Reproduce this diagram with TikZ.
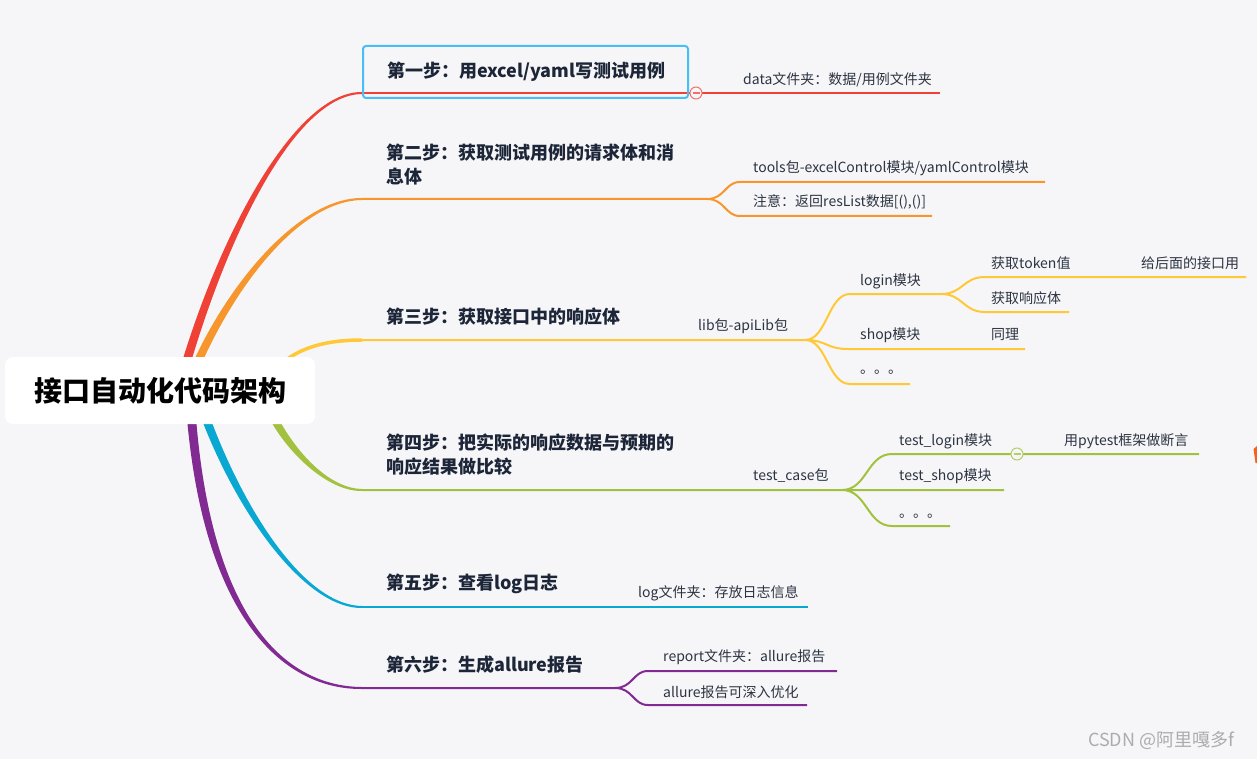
\documentclass[tikz,border=0pt]{standalone}
\usepackage{fontspec}
\setmainfont{Noto Sans CJK SC}
\usetikzlibrary{calc}

\definecolor{bgc}{RGB}{246,246,248}
\definecolor{cred}{RGB}{239,65,54}
\definecolor{corange}{RGB}{247,150,44}
\definecolor{cyellow}{RGB}{255,200,55}
\definecolor{cgreen}{RGB}{162,193,63}
\definecolor{ccyan}{RGB}{8,168,210}
\definecolor{cpurple}{RGB}{128,42,146}
\definecolor{cbox}{RGB}{72,190,245}
\definecolor{cblob}{RGB}{246,98,30}
\definecolor{steptext}{RGB}{28,38,56}
\definecolor{leaftext}{RGB}{44,52,66}

% tapered main branch: colour, start, control 1, control 2, end, side (-1 up, 1 down)
\newcommand{\trunk}[6]{%
  \fill[#1] ($(#2)+(-4.5,0)$) .. controls ($(#3)+({-3.5},{1.2*(#6)})$) and ($(#4)+(0,{1.6*(#6)})$) .. ($(#5)+(0,{1*(#6)})$)
    -- ($(#5)+(0,{-1*(#6)})$) .. controls ($(#4)+(0,{-1.6*(#6)})$) and ($(#3)+({3.5},{-1.2*(#6)})$) .. ($(#2)+(4.5,0)$) -- cycle;}

\begin{document}
\begin{tikzpicture}[x=1pt,y=-1pt,
  stepnode/.style={anchor=west,inner sep=0pt,text=steptext,align=left,
    font=\bfseries\fontsize{18}{24}\selectfont},
  leafnode/.style={anchor=west,inner sep=0pt,text=leaftext,font=\fontsize{14}{17}\selectfont},
  rootnode/.style={fill=white,rounded corners=8pt,minimum width=310pt,minimum height=67pt,
    inner sep=0pt,font=\bfseries\fontsize{28}{32}\selectfont,text=black},
  twig/.style={line width=2pt},
  knob/.style={circle,draw=#1,fill=bgc,line width=1pt,minimum size=12pt,inner sep=0pt,
    path picture={\draw[#1,line width=1.5pt] ([xshift=-3.5pt]path picture bounding box.center)
      -- ([xshift=3.5pt]path picture bounding box.center);}}]
  \fill[bgc] (0,0) rectangle (1257,759);
  \useasboundingbox (0,0) rectangle (1257,759);

  % step one
  \coordinate (r0) at (188,357); \coordinate (r1) at (362,93); \coordinate (r2) at (940,93);
  \trunk{cred}{r0}{230,220}{299,93}{r1}{-1}
  \draw[twig,cred] (r1) -- (r2);
  \node[stepnode,draw=cbox,line width=2pt,rounded corners=3pt,inner xsep=24pt,
    minimum height=52pt,text width=277pt] (s1) at (362,72) {第一步：用excel/yaml写测试用例};
  \node[knob=cred!75] (k1) at (696,93) {};
  \node[leafnode] (d1) at (743,80) {data文件夹：数据/用例文件夹};

  % step two
  \coordinate (o0) at (200,357); \coordinate (o1) at (362,199); \coordinate (o2) at (707,199);
  \coordinate (o3) at (740,182); \coordinate (o4) at (1045,182);
  \coordinate (o5) at (740,216); \coordinate (o6) at (932,216);
  \trunk{corange}{o0}{239,274}{304,199}{o1}{-1}
  \draw[twig,corange] (o1) -- (o2) .. controls +(18,0) and +(-15,0) .. (o3) -- (o4)
    (o2) .. controls +(18,0) and +(-15,0) .. (o5) -- (o6);
  \node[stepnode] (s2) at (386,164.5) {第二步：获取测试用例的请求体和消\\息体};
  \node[leafnode] (d2a) at (753,168) {tools包-excelControl模块/yamlControl模块};
  \node[leafnode] (d2b) at (753,202) {注意：返回resList数据[(),()]};

  % step three
  \coordinate (y0) at (286,360); \coordinate (y1) at (362,340); \coordinate (y2) at (805,340);
  \coordinate (y3) at (850,294); \coordinate (y4) at (941,294);
  \coordinate (y5) at (985,277); \coordinate (y6) at (1246,277);
  \coordinate (y7) at (985,312); \coordinate (y8) at (1069,312);
  \coordinate (y9) at (848,349); \coordinate (y10) at (1025,349);
  \coordinate (y11) at (850,384); \coordinate (y12) at (910,384);
  \draw[cyellow,line width=3.5pt] (y0) .. controls (305,346) and (330,340) .. (y1);
  \draw[twig,cyellow] (y1) -- (y2) .. controls +(22,0) and +(-22,0) .. (y3) -- (y4)
    .. controls +(22,0) and +(-22,0) .. (y5) -- (y6)
    (y4) .. controls +(22,0) and +(-22,0) .. (y7) -- (y8)
    (y2) .. controls +(22,0) and +(-22,0) .. (y9) -- (y10)
    (y2) .. controls +(22,0) and +(-22,0) .. (y11) -- (y12);
  \node[stepnode] (s3) at (386,317) {第三步：获取接口中的响应体};
  \node[leafnode] (d3) at (698,326) {lib包-apiLib包};
  \node[leafnode] (d3a) at (860,281) {login模块};
  \node[leafnode] (d3aa) at (991,263) {获取token值};
  \node[leafnode] (d3aaa) at (1141,263) {给后面的接口用};
  \node[leafnode] (d3ab) at (991,298) {获取响应体};
  \node[leafnode] (d3b) at (860,335) {shop模块};
  \node[leafnode] (d3ba) at (991,335) {同理};
  \node[leafnode] (d3c) at (860,372) {。。。};

  % step four
  \coordinate (g0) at (277,424); \coordinate (g1) at (362,490); \coordinate (g2) at (842,490);
  \coordinate (g3) at (1004,490); \coordinate (g4) at (892,454); \coordinate (g5) at (1199,454);
  \coordinate (g6) at (892,526); \coordinate (g7) at (950,526);
  \trunk{cgreen}{g0}{297,458}{331,490}{g1}{1}
  \draw[twig,cgreen] (g1) -- (g3)
    (g2) .. controls +(25,0) and +(-25,0) .. (g4) -- (g5)
    (g2) .. controls +(25,0) and +(-25,0) .. (g6) -- (g7);
  \node[knob=cgreen!80] (k4) at (1017,454) {};
  \node[stepnode] (s4) at (386,454.5) {第四步：把实际的响应数据与预期的\\响应结果做比较};
  \node[leafnode] (d4) at (753,476) {test\_case包};
  \node[leafnode] (d4a) at (899,441) {test\_login模块};
  \node[leafnode] (d4aa) at (1064,441) {用pytest框架做断言};
  \node[leafnode] (d4b) at (899,476) {test\_shop模块};
  \node[leafnode] (d4c) at (899,516) {。。。};

  % step five
  \coordinate (c0) at (208,424); \coordinate (c1) at (362,607); \coordinate (c2) at (808,607);
  \trunk{ccyan}{c0}{245,519}{307,607}{c1}{1}
  \draw[twig,ccyan] (c1) -- (c2);
  \node[stepnode] (s5) at (386,584) {第五步：查看log日志};
  \node[leafnode] (d5) at (638,593) {log文件夹：存放日志信息};

  % step six
  \coordinate (p0) at (192,424); \coordinate (p1) at (362,688); \coordinate (p2) at (615,688);
  \coordinate (p3) at (648,671); \coordinate (p4) at (837,671);
  \coordinate (p5) at (648,705); \coordinate (p6) at (807,705);
  \trunk{cpurple}{p0}{210,620}{285,688}{p1}{1}
  \draw[twig,cpurple] (p1) -- (p2) .. controls +(18,0) and +(-15,0) .. (p3) -- (p4)
    (p2) .. controls +(18,0) and +(-15,0) .. (p5) -- (p6);
  \node[stepnode] (s6) at (386,665) {第六步：生成allure报告};
  \node[leafnode] (d6a) at (663,657) {report文件夹：allure报告};
  \node[leafnode] (d6b) at (663,692) {allure报告可深入优化};

  \node[rootnode] (root) at (160,390.5) {接口自动化代码架构};

  \fill[cblob] (1253.5,449) -- (1257,446) -- (1257,463) -- (1255.5,463) -- cycle;
  \node[anchor=west,inner sep=0pt,text=gray!65,font=\fontsize{18}{20}\selectfont] (mark)
    at (1088,740) {CSDN @阿里嘎多f};
\end{tikzpicture}
\end{document}
